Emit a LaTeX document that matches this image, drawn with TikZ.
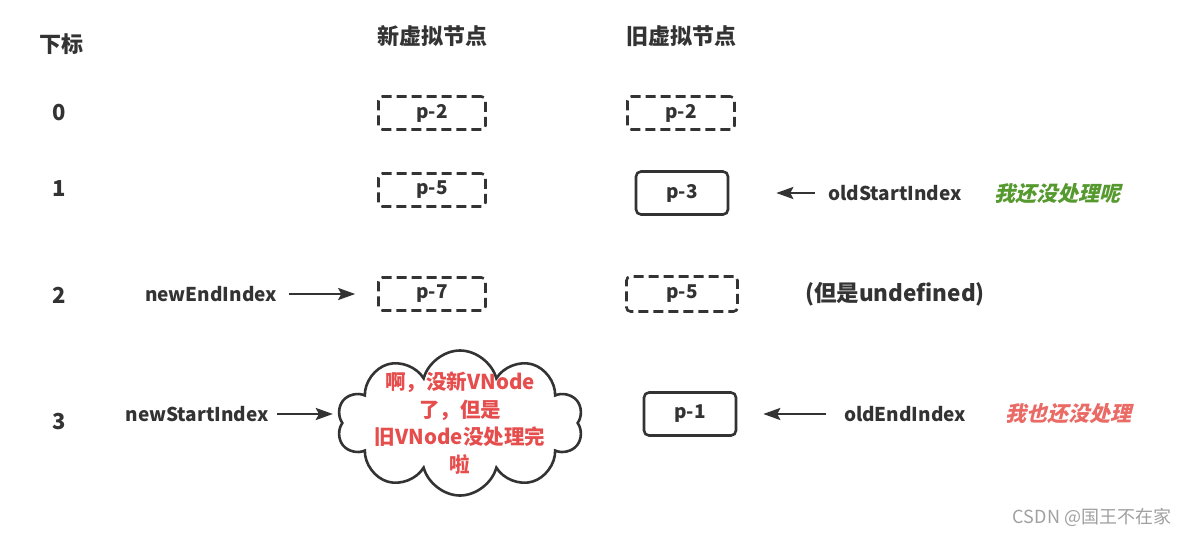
\documentclass[tikz,border=0pt]{standalone}
\usepackage{fontspec}
\setmainfont{Noto Sans CJK SC}
\newfontfamily\slantfont{Noto Sans CJK SC}[UprightFeatures={FakeSlant=0.25}, BoldFeatures={FakeSlant=0.25}]
\usepackage{tikz}
\usetikzlibrary{positioning, calc, shapes.symbols}
\usetikzlibrary{arrows.meta}

\begin{document}
\begin{tikzpicture}[x=1pt, y=-1pt, font=\fontsize{19}{27}\selectfont\bfseries, align=center, >={Stealth[length=17pt, width=12pt, inset=3pt]}, line width=2.6pt,
    every node/.style={text=txt},
    cjk/.style={font=\fontsize{22}{27}\selectfont\bfseries},
    vdash/.style={draw=txt, dashed, dash pattern=on 10pt off 5pt, rounded corners=4pt, minimum width=107pt, minimum height=33pt},
    vbox/.style={draw=txt, rounded corners=5pt, minimum width=92pt, minimum height=43pt}]
        % Define colors
        \definecolor{txt}{HTML}{333333}
        \definecolor{okgreen}{HTML}{56992E}
        \definecolor{softred}{HTML}{EA6B66}
        \definecolor{cloudred}{HTML}{E64D4D}
        \definecolor{mark}{HTML}{A0A0A0}

        \useasboundingbox (0,0) rectangle (1192,536);

        % Headers
        \node[cjk] (idxhead) at (61,44) {下标};
        \node[cjk] (newhead) at (432,36) {新虚拟节点};
        \node[cjk] (oldhead) at (681,36) {旧虚拟节点};

        % Index column
        \foreach \i/\y in {0/113, 1/189, 2/295, 3/422} {
            \node[cjk] (idx\i) at (59,\y) {\i};
        }

        % New vnodes
        \node[vdash] (new0) at (432,113) {p-2};
        \node[vdash] (new1) at (432,190) {p-5};
        \node[vdash] (new2) at (432,294) {p-7};
        \node[cloud, draw=txt, cloud puffs=10, aspect=1.7, minimum width=246pt, minimum height=145pt, inner sep=0pt] (cloud) at (460,423) {};
        \node[text=cloudred, font=\fontsize{20.5}{27.5}\selectfont\bfseries] (cloudtxt) at (cloud.center)
            {啊，没新VNode\\了，但是\\旧VNode没处理完\\啦};

        % Old vnodes
        \node[vdash] (old0) at (681,113) {p-2};
        \node[vbox] (old1) at (682,193) {p-3};
        \node[vdash, minimum width=111pt, minimum height=35pt] (old2) at (682,294) {p-5};
        \node[vbox] (old3) at (690,414) {p-1};

        % Pointers
        \node (newend) at (211,294) {newEndIndex};
        \node (newstart) at (197,414) {newStartIndex};
        \node (oldstart) at (895,193) {oldStartIndex};
        \node (oldend) at (905,414) {oldEndIndex};
        \node[font=\fontsize{22.5}{27}\selectfont\bfseries] (undef) at (895,294) {(但是undefined)};

        % Remarks
        \node[text=okgreen, font=\fontsize{21}{27}\selectfont\bfseries\slantfont] (note1) at (1057,194) {我还没处理呢};
        \node[text=softred, font=\fontsize{21}{27}\selectfont\bfseries\slantfont] (note2) at (1068,414) {我也还没处理};
        \node[text=mark, font=\fontsize{18}{22}\selectfont] (wm) at (1092,517) {CSDN @国王不在家};

        % Edges
        \draw[->, draw=txt, line width=2.2pt, shorten <=8pt, shorten >=22pt] (newend) -- (new2);
        \draw[->, draw=txt, line width=2.2pt, shorten <=4pt, shorten >=8pt] (newstart) -- (newstart -| cloud.west);
        \draw[->, draw=txt, line width=2.2pt, shorten <=9pt, shorten >=47pt] (oldstart) -- (old1);
        \draw[->, draw=txt, line width=2.2pt, shorten <=13pt, shorten >=26pt] (oldend) -- (old3);
    \end{tikzpicture}
\end{document}
